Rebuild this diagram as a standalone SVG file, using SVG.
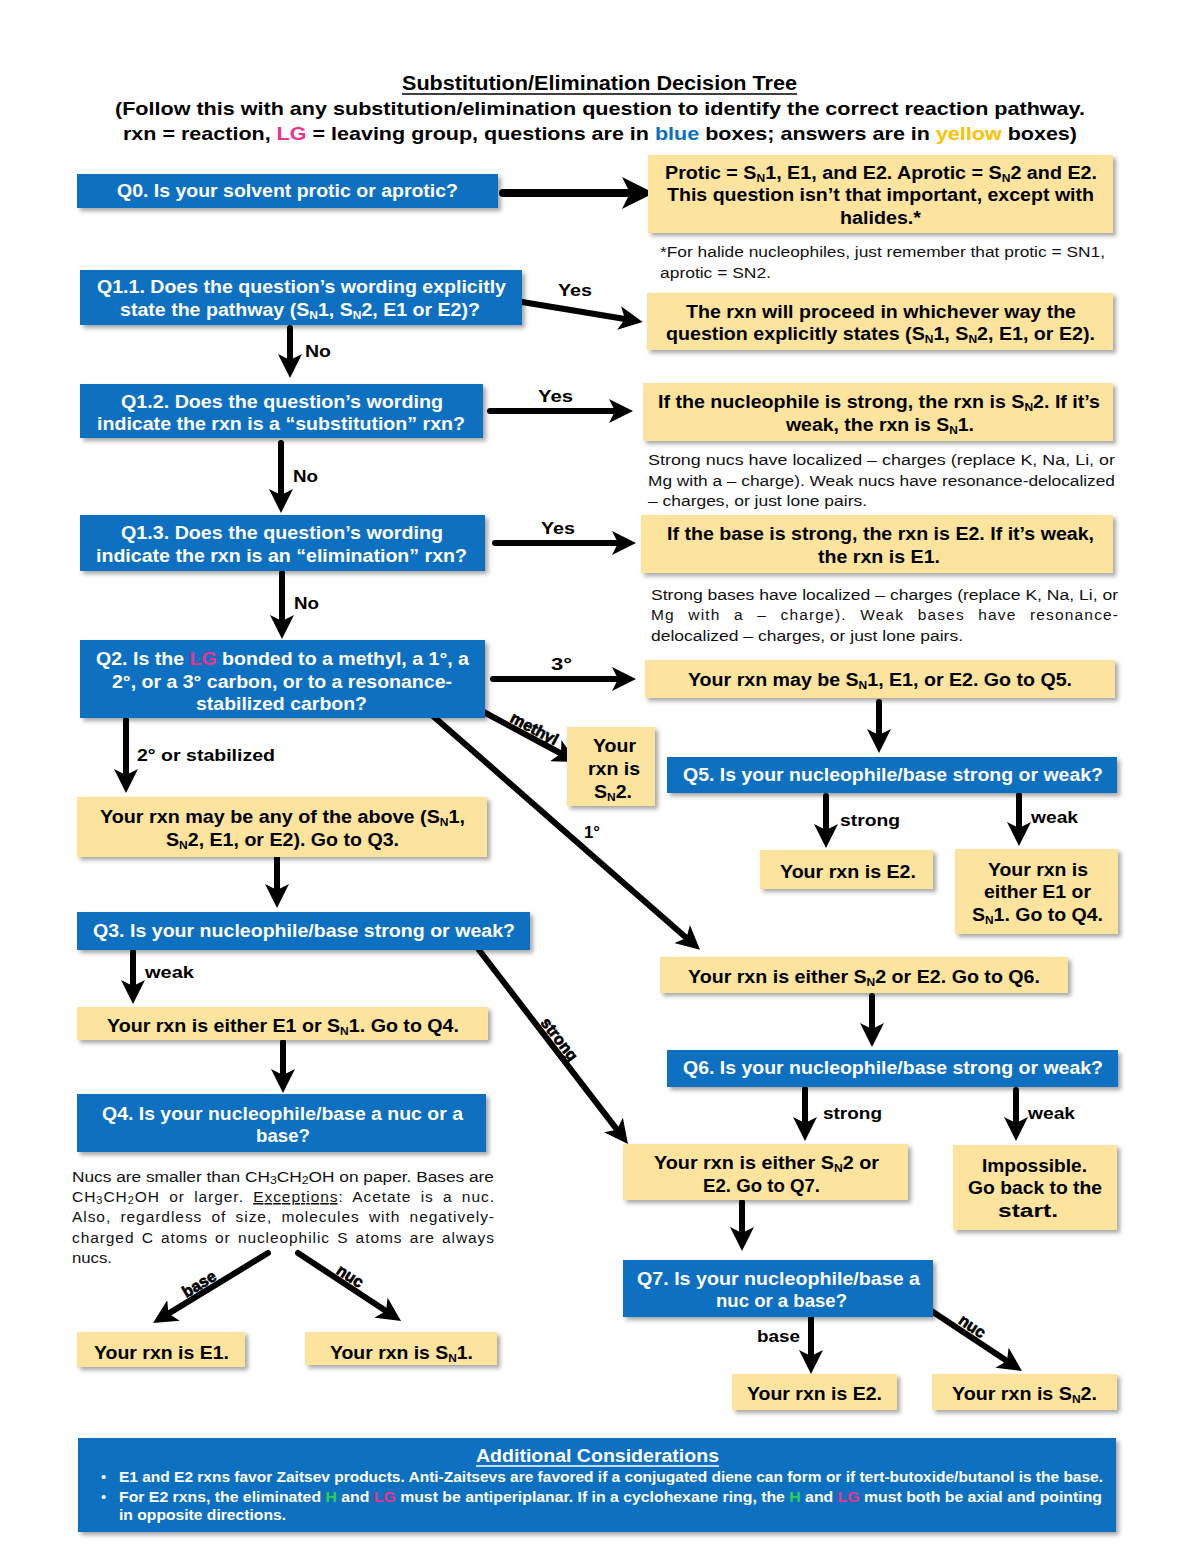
<svg xmlns="http://www.w3.org/2000/svg" width="1200" height="1553" viewBox="0 0 1200 1553">
<style>
text{font-family:"Liberation Sans",Arial,sans-serif}
.q{fill:#0B6FC1}
.a{fill:#FDE49E}
.qt{fill:#fff;font-weight:bold;font-size:18px}
.at{fill:#000;font-weight:bold;font-size:18px}
.lbl{fill:#000;font-weight:bold;font-size:17px}
.rl{fill:#000;font-weight:bold;font-size:16px;stroke:#000;stroke-width:0.7px;text-anchor:middle}
.note{fill:#111;font-size:15.5px}
.t1{font-weight:bold;font-size:20px}
.t2{font-weight:bold;font-size:19px}
.sub{font-size:11px}
.pk{fill:#F0308C}
.bl{fill:#0B6FC1}
.yl{fill:#FFC000}
.gr{fill:#2FD04A}
.arr{stroke:#000;stroke-width:6;stroke-linecap:round;fill:none;marker-end:url(#ah)}
</style>
<defs>
<filter id="sh" x="-5%" y="-10%" width="115%" height="140%">
<feDropShadow dx="3" dy="3" stdDeviation="2" flood-color="#000" flood-opacity="0.35"/>
</filter>
<marker id="ah" viewBox="0 0 10 10" refX="2.5" refY="5" markerWidth="4" markerHeight="4" orient="auto">
<path d="M0,0 L10,5 L0,10 L2.5,5 z" fill="#000"/>
</marker>
</defs>
<rect width="1200" height="1553" fill="#fff"/>

<g id="title">
<text class="t1" x="402" y="90" textLength="395" lengthAdjust="spacingAndGlyphs">Substitution/Elimination Decision Tree</text>
<line x1="402" y1="94" x2="797" y2="94" stroke="#000" stroke-width="1.6"/>
<text class="t2" x="115" y="115" textLength="970" lengthAdjust="spacingAndGlyphs">(Follow this with any substitution/elimination question to identify the correct reaction pathway.</text>
<text class="t2" x="123" y="140" textLength="954" lengthAdjust="spacingAndGlyphs">rxn = reaction, <tspan class="pk">LG</tspan> = leaving group, questions are in <tspan class="bl">blue</tspan> boxes; answers are in <tspan class="yl">yellow</tspan> boxes)</text>
</g>

<g id="connectors">
<line class="arr" x1="503" y1="193" x2="630" y2="193" style="stroke-width:8"/>
<line class="arr" x1="510" y1="300" x2="625" y2="319"/>
<line class="arr" x1="290" y1="328" x2="290" y2="360"/>
<line class="arr" x1="490" y1="411" x2="615" y2="411"/>
<line class="arr" x1="281" y1="443" x2="281" y2="495"/>
<line class="arr" x1="495" y1="543" x2="618" y2="543"/>
<line class="arr" x1="282" y1="573" x2="282" y2="621"/>
<line class="arr" x1="493" y1="679" x2="618" y2="679"/>
<line class="arr" x1="480" y1="710" x2="561" y2="753.5"/>
<line class="arr" x1="433" y1="716" x2="686.5" y2="938"/>
<line class="arr" x1="126" y1="720" x2="126" y2="775"/>
<line class="arr" x1="277" y1="858" x2="277" y2="890"/>
<line class="arr" x1="133" y1="952" x2="133" y2="986"/>
<line class="arr" x1="283" y1="1042" x2="283" y2="1075"/>
<line class="arr" x1="268" y1="1253" x2="168.4" y2="1313.6"/>
<line class="arr" x1="298" y1="1253" x2="386" y2="1311"/>
<line class="arr" x1="479" y1="950" x2="617" y2="1129.7"/>
<line class="arr" x1="879" y1="702" x2="879" y2="735"/>
<line class="arr" x1="826" y1="796" x2="826" y2="830"/>
<line class="arr" x1="1019" y1="795" x2="1019" y2="828"/>
<line class="arr" x1="872" y1="996" x2="872" y2="1029"/>
<line class="arr" x1="805" y1="1089" x2="805" y2="1123"/>
<line class="arr" x1="1016" y1="1090" x2="1016" y2="1123"/>
<line class="arr" x1="742" y1="1202" x2="742" y2="1233"/>
<line class="arr" x1="811" y1="1313" x2="811" y2="1356"/>
<line class="arr" x1="918" y1="1302" x2="1007" y2="1361"/>
<text class="lbl" x="558" y="296" textLength="34" lengthAdjust="spacingAndGlyphs">Yes</text>
<text class="lbl" x="305" y="357" textLength="26" lengthAdjust="spacingAndGlyphs">No</text>
<text class="lbl" x="538" y="402" textLength="35" lengthAdjust="spacingAndGlyphs">Yes</text>
<text class="lbl" x="293" y="482" textLength="25" lengthAdjust="spacingAndGlyphs">No</text>
<text class="lbl" x="541" y="534" textLength="34" lengthAdjust="spacingAndGlyphs">Yes</text>
<text class="lbl" x="294" y="609" textLength="25" lengthAdjust="spacingAndGlyphs">No</text>
<text class="lbl" x="551" y="670" textLength="21" lengthAdjust="spacingAndGlyphs">3°</text>
<text class="lbl" x="137" y="761" textLength="138" lengthAdjust="spacingAndGlyphs">2° or stabilized</text>
<text class="lbl" x="584" y="838" textLength="16" lengthAdjust="spacingAndGlyphs">1°</text>
<text class="rl" transform="translate(530,737) rotate(28)" x="0" y="-4">methyl</text>
<text class="lbl" x="840" y="826" textLength="60" lengthAdjust="spacingAndGlyphs">strong</text>
<text class="lbl" x="1031" y="823" textLength="47" lengthAdjust="spacingAndGlyphs">weak</text>
<text class="lbl" x="145" y="978" textLength="49" lengthAdjust="spacingAndGlyphs">weak</text>
<text class="rl" transform="translate(552,1045) rotate(52.5)" x="0" y="-4">strong</text>
<text class="rl" transform="translate(204,1292) rotate(-31)" x="0" y="-4">base</text>
<text class="rl" transform="translate(345,1284) rotate(33)" x="0" y="-4">nuc</text>
<text class="lbl" x="823" y="1119" textLength="59" lengthAdjust="spacingAndGlyphs">strong</text>
<text class="lbl" x="1028" y="1119" textLength="47" lengthAdjust="spacingAndGlyphs">weak</text>
<text class="lbl" x="757" y="1342" textLength="43" lengthAdjust="spacingAndGlyphs">base</text>
<text class="rl" transform="translate(967,1334) rotate(34)" x="0" y="-4">nuc</text>
</g>

<g id="Q0">
<rect class="q" x="77" y="174" width="421" height="34" filter="url(#sh)"/>
<text class="qt" x="117" y="197" textLength="341" lengthAdjust="spacingAndGlyphs">Q0. Is your solvent protic or aprotic?</text>
</g>
<g id="A0">
<rect class="a" x="648" y="155" width="465" height="78" filter="url(#sh)"/>
<text class="at" x="665" y="179" textLength="432" lengthAdjust="spacingAndGlyphs">Protic = S<tspan class="sub" dy="3">N</tspan><tspan dy="-3">1, E1, and E2. Aprotic = S</tspan><tspan class="sub" dy="3">N</tspan><tspan dy="-3">2 and E2.</tspan></text>
<text class="at" x="667" y="201" textLength="427" lengthAdjust="spacingAndGlyphs">This question isn’t that important, except with</text>
<text class="at" x="840" y="224" textLength="81" lengthAdjust="spacingAndGlyphs">halides.*</text>
</g>
<g id="footnote">
<text class="note" x="660" y="257" textLength="445" lengthAdjust="spacingAndGlyphs">*For halide nucleophiles, just remember that protic = SN1,</text>
<text class="note" x="660" y="278" textLength="111" lengthAdjust="spacingAndGlyphs">aprotic = SN2.</text>
</g>

<g id="Q1_1">
<rect class="q" x="80" y="270" width="442" height="55" filter="url(#sh)"/>
<text class="qt" x="97" y="293" textLength="409" lengthAdjust="spacingAndGlyphs">Q1.1. Does the question’s wording explicitly</text>
<text class="qt" x="120" y="316" textLength="360" lengthAdjust="spacingAndGlyphs">state the pathway (S<tspan class="sub" dy="3">N</tspan><tspan dy="-3">1, S</tspan><tspan class="sub" dy="3">N</tspan><tspan dy="-3">2, E1 or E2)?</tspan></text>
</g>
<g id="A1_1">
<rect class="a" x="647" y="293" width="466" height="57" filter="url(#sh)"/>
<text class="at" x="686" y="318" textLength="390" lengthAdjust="spacingAndGlyphs">The rxn will proceed in whichever way the</text>
<text class="at" x="666" y="340" textLength="429" lengthAdjust="spacingAndGlyphs">question explicitly states (S<tspan class="sub" dy="3">N</tspan><tspan dy="-3">1, S</tspan><tspan class="sub" dy="3">N</tspan><tspan dy="-3">2, E1, or E2).</tspan></text>
</g>

<g id="Q1_2">
<rect class="q" x="80" y="384" width="403" height="54" filter="url(#sh)"/>
<text class="qt" x="121" y="408" textLength="322" lengthAdjust="spacingAndGlyphs">Q1.2. Does the question’s wording</text>
<text class="qt" x="97" y="430" textLength="368" lengthAdjust="spacingAndGlyphs">indicate the rxn is a “substitution” rxn?</text>
</g>
<g id="A1_2">
<rect class="a" x="643" y="383" width="470" height="58" filter="url(#sh)"/>
<text class="at" x="658" y="408" textLength="442" lengthAdjust="spacingAndGlyphs">If the nucleophile is strong, the rxn is S<tspan class="sub" dy="3">N</tspan><tspan dy="-3">2. If it’s</tspan></text>
<text class="at" x="786" y="431" textLength="188" lengthAdjust="spacingAndGlyphs">weak, the rxn is S<tspan class="sub" dy="3">N</tspan><tspan dy="-3">1.</tspan></text>
</g>
<g id="note1">
<text class="note" x="648" y="465" textLength="467" lengthAdjust="spacingAndGlyphs">Strong nucs have localized – charges (replace K, Na, Li, or</text>
<text class="note" x="648" y="486" textLength="467" lengthAdjust="spacingAndGlyphs">Mg with a – charge). Weak nucs have resonance-delocalized</text>
<text class="note" x="648" y="506" textLength="219" lengthAdjust="spacingAndGlyphs">– charges, or just lone pairs.</text>
</g>

<g id="Q1_3">
<rect class="q" x="80" y="515" width="405" height="56" filter="url(#sh)"/>
<text class="qt" x="121" y="539" textLength="322" lengthAdjust="spacingAndGlyphs">Q1.3. Does the question’s wording</text>
<text class="qt" x="96" y="562" textLength="371" lengthAdjust="spacingAndGlyphs">indicate the rxn is an “elimination” rxn?</text>
</g>
<g id="A1_3">
<rect class="a" x="641" y="515" width="472" height="58" filter="url(#sh)"/>
<text class="at" x="667" y="540" textLength="427" lengthAdjust="spacingAndGlyphs">If the base is strong, the rxn is E2. If it’s weak,</text>
<text class="at" x="818" y="563" textLength="122" lengthAdjust="spacingAndGlyphs">the rxn is E1.</text>
</g>
<g id="note2">
<text class="note" x="651" y="600" textLength="467" lengthAdjust="spacingAndGlyphs">Strong bases have localized – charges (replace K, Na, Li, or</text>
<text class="note" x="651" y="620" textLength="467" lengthAdjust="spacing" word-spacing="8">Mg with a – charge). Weak bases have resonance-</text>
<text class="note" x="651" y="641" textLength="312" lengthAdjust="spacingAndGlyphs">delocalized – charges, or just lone pairs.</text>
</g>

<g id="Q2">
<rect class="q" x="80" y="640" width="405" height="78" filter="url(#sh)"/>
<text class="qt" x="96" y="665" textLength="373" lengthAdjust="spacingAndGlyphs">Q2. Is the <tspan class="pk">LG</tspan> bonded to a methyl, a 1°, a</text>
<text class="qt" x="112" y="688" textLength="340" lengthAdjust="spacingAndGlyphs">2°, or a 3° carbon, or to a resonance-</text>
<text class="qt" x="196" y="710" textLength="171" lengthAdjust="spacingAndGlyphs">stabilized carbon?</text>
</g>
<g id="A2_3deg">
<rect class="a" x="645" y="660" width="470" height="38" filter="url(#sh)"/>
<text class="at" x="688" y="686" textLength="384" lengthAdjust="spacingAndGlyphs">Your rxn may be S<tspan class="sub" dy="3">N</tspan><tspan dy="-3">1, E1, or E2. Go to Q5.</tspan></text>
</g>
<g id="A2_methyl">
<rect class="a" x="567" y="727" width="88" height="79" filter="url(#sh)"/>
<text class="at" x="593" y="752" textLength="43" lengthAdjust="spacingAndGlyphs">Your</text>
<text class="at" x="588" y="775" textLength="52" lengthAdjust="spacingAndGlyphs">rxn is</text>
<text class="at" x="594" y="798" textLength="38" lengthAdjust="spacingAndGlyphs">S<tspan class="sub" dy="3">N</tspan><tspan dy="-3">2.</tspan></text>
</g>
<g id="A2_2deg">
<rect class="a" x="77" y="797" width="410" height="60" filter="url(#sh)"/>
<text class="at" x="100" y="823" textLength="365" lengthAdjust="spacingAndGlyphs">Your rxn may be any of the above (S<tspan class="sub" dy="3">N</tspan><tspan dy="-3">1,</tspan></text>
<text class="at" x="166" y="846" textLength="233" lengthAdjust="spacingAndGlyphs">S<tspan class="sub" dy="3">N</tspan><tspan dy="-3">2, E1, or E2). Go to Q3.</tspan></text>
</g>

<g id="Q5">
<rect class="q" x="667" y="757" width="450" height="36" filter="url(#sh)"/>
<text class="qt" x="683" y="781" textLength="420" lengthAdjust="spacingAndGlyphs">Q5. Is your nucleophile/base strong or weak?</text>
</g>
<g id="A5_strong">
<rect class="a" x="760" y="850" width="173" height="39" filter="url(#sh)"/>
<text class="at" x="780" y="878" textLength="136" lengthAdjust="spacingAndGlyphs">Your rxn is E2.</text>
</g>
<g id="A5_weak">
<rect class="a" x="955" y="849" width="163" height="85" filter="url(#sh)"/>
<text class="at" x="988" y="876" textLength="100" lengthAdjust="spacingAndGlyphs">Your rxn is</text>
<text class="at" x="984" y="898" textLength="107" lengthAdjust="spacingAndGlyphs">either E1 or</text>
<text class="at" x="972" y="921" textLength="131" lengthAdjust="spacingAndGlyphs">S<tspan class="sub" dy="3">N</tspan><tspan dy="-3">1. Go to Q4.</tspan></text>
</g>

<g id="Q3">
<rect class="q" x="77" y="912" width="453" height="38" filter="url(#sh)"/>
<text class="qt" x="93" y="937" textLength="422" lengthAdjust="spacingAndGlyphs">Q3. Is your nucleophile/base strong or weak?</text>
</g>
<g id="A3_weak">
<rect class="a" x="77" y="1007" width="411" height="33" filter="url(#sh)"/>
<text class="at" x="107" y="1032" textLength="352" lengthAdjust="spacingAndGlyphs">Your rxn is either E1 or S<tspan class="sub" dy="3">N</tspan><tspan dy="-3">1. Go to Q4.</tspan></text>
</g>

<g id="Q4">
<rect class="q" x="77" y="1094" width="409" height="58" filter="url(#sh)"/>
<text class="qt" x="102" y="1120" textLength="361" lengthAdjust="spacingAndGlyphs">Q4. Is your nucleophile/base a nuc or a</text>
<text class="qt" x="256" y="1142" textLength="54" lengthAdjust="spacingAndGlyphs">base?</text>
</g>
<g id="note4">
<text class="note" x="72" y="1182" textLength="422" lengthAdjust="spacingAndGlyphs">Nucs are smaller than CH<tspan class="sub" dy="2">3</tspan><tspan dy="-2">CH</tspan><tspan class="sub" dy="2">2</tspan><tspan dy="-2">OH on paper. Bases are</tspan></text>
<text class="note" x="72" y="1202" textLength="422" lengthAdjust="spacing" word-spacing="4">CH<tspan class="sub" dy="2">3</tspan><tspan dy="-2">CH</tspan><tspan class="sub" dy="2">2</tspan><tspan dy="-2">OH or larger. </tspan><tspan text-decoration="underline">Exceptions</tspan>: Acetate is a nuc.</text>
<text class="note" x="72" y="1222" textLength="422" lengthAdjust="spacing" word-spacing="4">Also, regardless of size, molecules with negatively-</text>
<text class="note" x="72" y="1243" textLength="422" lengthAdjust="spacing" word-spacing="2">charged C atoms or nucleophilic S atoms are always</text>
<text class="note" x="72" y="1263" textLength="40" lengthAdjust="spacingAndGlyphs">nucs.</text>
</g>
<g id="A4_base">
<rect class="a" x="77" y="1332" width="168" height="35" filter="url(#sh)"/>
<text class="at" x="94" y="1359" textLength="135" lengthAdjust="spacingAndGlyphs">Your rxn is E1.</text>
</g>
<g id="A4_nuc">
<rect class="a" x="305" y="1332" width="192" height="33" filter="url(#sh)"/>
<text class="at" x="330" y="1359" textLength="143" lengthAdjust="spacingAndGlyphs">Your rxn is S<tspan class="sub" dy="3">N</tspan><tspan dy="-3">1.</tspan></text>
</g>

<g id="A2_1deg">
<rect class="a" x="660" y="957" width="408" height="36" filter="url(#sh)"/>
<text class="at" x="688" y="983" textLength="352" lengthAdjust="spacingAndGlyphs">Your rxn is either S<tspan class="sub" dy="3">N</tspan><tspan dy="-3">2 or E2. Go to Q6.</tspan></text>
</g>
<g id="Q6">
<rect class="q" x="667" y="1050" width="451" height="37" filter="url(#sh)"/>
<text class="qt" x="683" y="1074" textLength="420" lengthAdjust="spacingAndGlyphs">Q6. Is your nucleophile/base strong or weak?</text>
</g>
<g id="A6_strong">
<rect class="a" x="623" y="1144" width="285" height="56" filter="url(#sh)"/>
<text class="at" x="654" y="1169" textLength="225" lengthAdjust="spacingAndGlyphs">Your rxn is either S<tspan class="sub" dy="3">N</tspan><tspan dy="-3">2 or</tspan></text>
<text class="at" x="703" y="1192" textLength="117" lengthAdjust="spacingAndGlyphs">E2. Go to Q7.</text>
</g>
<g id="A6_weak">
<rect class="a" x="953" y="1145" width="164" height="85" filter="url(#sh)"/>
<text class="at" x="982" y="1172" textLength="105" lengthAdjust="spacingAndGlyphs">Impossible.</text>
<text class="at" x="968" y="1194" textLength="134" lengthAdjust="spacingAndGlyphs">Go back to the</text>
<text class="at" x="998" y="1217" textLength="60" lengthAdjust="spacingAndGlyphs">start.</text>
</g>

<g id="Q7">
<rect class="q" x="623" y="1260" width="310" height="57" filter="url(#sh)"/>
<text class="qt" x="637" y="1285" textLength="283" lengthAdjust="spacingAndGlyphs">Q7. Is your nucleophile/base a</text>
<text class="qt" x="716" y="1307" textLength="131" lengthAdjust="spacingAndGlyphs">nuc or a base?</text>
</g>
<g id="A7_base">
<rect class="a" x="732" y="1374" width="165" height="36" filter="url(#sh)"/>
<text class="at" x="747" y="1400" textLength="135" lengthAdjust="spacingAndGlyphs">Your rxn is E2.</text>
</g>
<g id="A7_nuc">
<rect class="a" x="932" y="1374" width="185" height="36" filter="url(#sh)"/>
<text class="at" x="952" y="1400" textLength="145" lengthAdjust="spacingAndGlyphs">Your rxn is S<tspan class="sub" dy="3">N</tspan><tspan dy="-3">2.</tspan></text>
</g>

<g id="additional">
<rect class="q" x="78" y="1438" width="1038" height="94" filter="url(#sh)"/>
<text fill="#fff" font-weight="bold" font-size="18" x="476" y="1462" textLength="243" lengthAdjust="spacingAndGlyphs">Additional Considerations</text>
<line x1="476" y1="1466" x2="719" y2="1466" stroke="#fff" stroke-width="1.5"/>
<text fill="#fff" font-size="15" x="101" y="1482">•</text>
<text fill="#fff" font-size="15" x="101" y="1502">•</text>
<text fill="#fff" font-weight="bold" font-size="15" x="119" y="1482" textLength="984" lengthAdjust="spacingAndGlyphs">E1 and E2 rxns favor Zaitsev products. Anti-Zaitsevs are favored if a conjugated diene can form or if tert-butoxide/butanol is the base.</text>
<text fill="#fff" font-weight="bold" font-size="15" x="119" y="1502" textLength="983" lengthAdjust="spacingAndGlyphs">For E2 rxns, the eliminated <tspan class="gr">H</tspan> and <tspan class="pk">LG</tspan> must be antiperiplanar. If in a cyclohexane ring, the <tspan class="gr">H</tspan> and <tspan class="pk">LG</tspan> must both be axial and pointing</text>
<text fill="#fff" font-weight="bold" font-size="15" x="119" y="1520" textLength="167" lengthAdjust="spacingAndGlyphs">in opposite directions.</text>
</g>
</svg>
